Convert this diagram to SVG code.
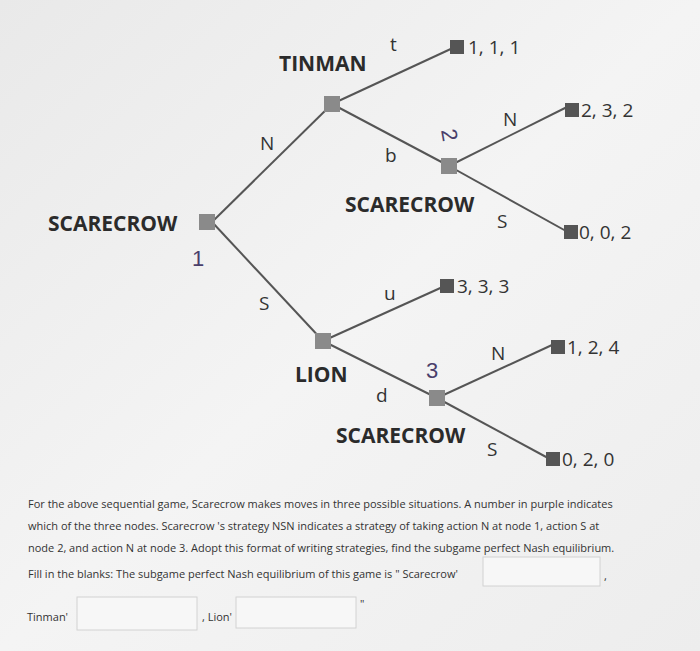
<svg xmlns="http://www.w3.org/2000/svg" width="700" height="651" viewBox="0 0 700 651">
<defs>
<linearGradient id="bg" x1="0" y1="0" x2="1" y2="1">
<stop offset="0" stop-color="#e9e9e9"/><stop offset="0.5" stop-color="#f4f4f4"/><stop offset="1" stop-color="#ededed"/>
</linearGradient>
<style>
.l{stroke:#555;stroke-width:2;fill:none}
.n{fill:#8a8a8a}
.t{fill:#555}
.b{font-family:"Open Sans","Liberation Sans",sans-serif;font-weight:bold;font-size:21px;fill:#2b2b2b}
.a{font-family:"Open Sans","Liberation Sans",sans-serif;font-size:19px;fill:#333}
.p{font-family:"Liberation Sans",sans-serif;font-size:22px;fill:#4a3f6b}
.s{font-family:"Open Sans","Liberation Sans",sans-serif;font-size:11px;fill:#333}
.box{fill:#f7f7f7;stroke:#d2d2d2;stroke-width:1}
</style>
</defs>
<rect width="700" height="651" fill="url(#bg)"/>
<g id="connectors">
<line class="l" x1="212" y1="222" x2="332" y2="104"/>
<line class="l" x1="212" y1="222" x2="323" y2="341"/>
<line class="l" x1="332" y1="104" x2="455" y2="47"/>
<line class="l" x1="332" y1="104" x2="449" y2="166"/>
<line class="l" x1="449" y1="166" x2="567" y2="107"/>
<line class="l" x1="449" y1="166" x2="566" y2="231"/>
<line class="l" x1="323" y1="341" x2="447" y2="285"/>
<line class="l" x1="323" y1="341" x2="437" y2="398"/>
<line class="l" x1="437" y1="398" x2="552" y2="345"/>
<line class="l" x1="437" y1="398" x2="548" y2="458"/>
</g>
<g id="root"><rect class="n" x="199" y="214" width="16" height="16"/><text class="b" x="48" y="231">SCARECROW</text><text class="p" x="192" y="266">1</text></g>
<g id="tinman"><rect class="n" x="324" y="96" width="16" height="16"/><text class="b" x="279" y="71">TINMAN</text><text class="a" x="390" y="51">t</text><text class="a" x="385" y="162">b</text><text class="a" x="260" y="150">N</text></g>
<g id="sc2"><rect class="n" x="441" y="158" width="16" height="16"/><text class="b" x="345" y="212">SCARECROW</text><text class="p" x="441" y="142" transform="rotate(80 448 136)">2</text><text class="a" x="503" y="126">N</text><text class="a" x="497" y="228">S</text></g>
<g id="lion"><rect class="n" x="315" y="333" width="16" height="16"/><text class="b" x="295" y="382">LION</text><text class="a" x="259" y="310">S</text><text class="a" x="384" y="300" fill="#777">u</text><text class="a" x="376" y="402" fill="#777">d</text></g>
<g id="sc3"><rect class="n" x="429" y="390" width="16" height="16"/><text class="b" x="336" y="443">SCARECROW</text><text class="p" x="426" y="378">3</text><text class="a" x="491" y="360">N</text><text class="a" x="487" y="456">S</text></g>
<g id="payoffs">
<rect class="t" x="450" y="40" width="14" height="14"/><text class="a" x="468" y="54">1, 1, 1</text>
<rect class="t" x="565" y="103" width="14" height="14"/><text class="a" x="581" y="117">2, 3, 2</text>
<rect class="t" x="564" y="225" width="14" height="14"/><text class="a" x="579" y="239">0, 0, 2</text>
<rect class="t" x="440" y="279" width="14" height="14"/><text class="a" x="457" y="293">3, 3, 3</text>
<rect class="t" x="551" y="340" width="14" height="14"/><text class="a" x="567" y="354">1, 2, 4</text>
<rect class="t" x="546" y="452" width="14" height="14"/><text class="a" x="562" y="466">0, 2, 0</text>
</g>
<g id="question">
<text class="s" x="28" y="508">For the above sequential game, Scarecrow makes moves in three possible situations. A number in purple indicates</text>
<text class="s" x="28" y="530">which of the three nodes. Scarecrow 's strategy NSN indicates a strategy of taking action N at node 1, action S at</text>
<text class="s" x="28" y="552">node 2, and action N at node 3. Adopt this format of writing strategies, find the subgame perfect Nash equilibrium.</text>
<text class="s" x="28" y="578">Fill in the blanks: The subgame perfect Nash equilibrium of this game is " Scarecrow'</text>
<rect class="box" x="483" y="557" width="117" height="29"/>
<text class="s" x="604" y="580">,</text>
<text class="s" x="27" y="621">Tinman'</text>
<rect class="box" x="77" y="597" width="120" height="33"/>
<text class="s" x="202" y="621">, Lion'</text>
<rect class="box" x="236" y="597" width="120" height="31"/>
<text class="s" x="360" y="608">"</text>
</g>
</svg>
